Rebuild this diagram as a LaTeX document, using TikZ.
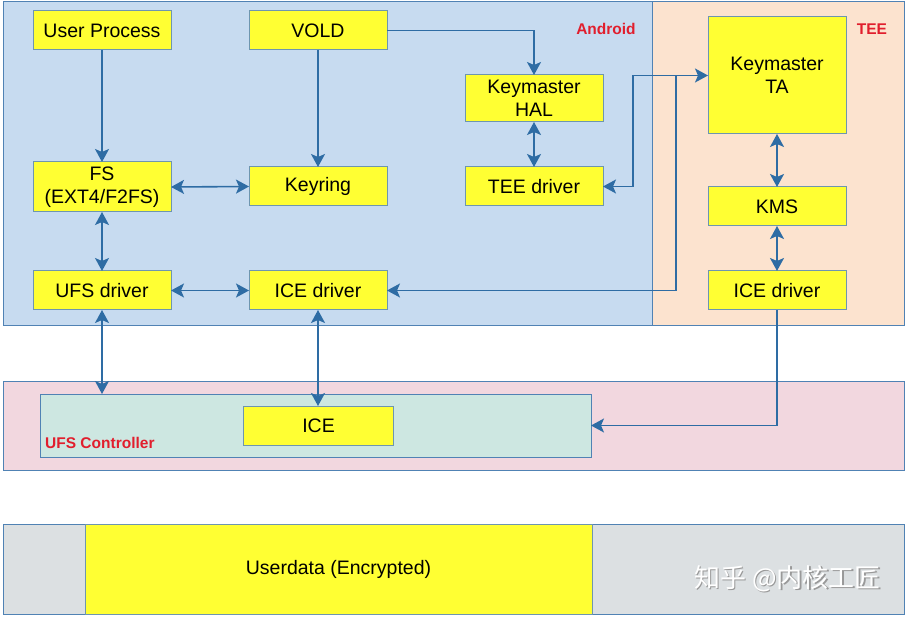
\documentclass[tikz,border=0pt]{standalone}
\usepackage{fontspec}
\setmainfont{Liberation Sans}
\newfontfamily\cjkfont{Noto Sans CJK SC}
\usetikzlibrary{arrows.meta}
\definecolor{androidbg}{RGB}{199,219,240}
\definecolor{teebg}{RGB}{252,227,207}
\definecolor{pinkbg}{RGB}{242,215,223}
\definecolor{tealbg}{RGB}{205,231,225}
\definecolor{graybg}{RGB}{220,224,226}
\definecolor{boxyellow}{RGB}{255,255,51}
\definecolor{boxborder}{RGB}{110,150,175}
\definecolor{regborder}{RGB}{80,130,180}
\definecolor{arrowc}{RGB}{46,108,164}
\definecolor{labred}{RGB}{225,30,45}
\tikzset{
  region/.style={draw=regborder, line width=1pt, inner sep=0pt, outer sep=0pt, anchor=north west},
  ybox/.style={draw=boxborder, fill=boxyellow, line width=1pt, inner sep=0pt, outer sep=0pt,
    minimum width=138pt, minimum height=39pt, align=center,
    font=\fontsize{19.5}{23}\selectfont},
  reglabel/.style={text=labred, font=\bfseries\fontsize{15.5}{18}\selectfont, inner sep=0pt},
  conn/.style={draw=arrowc, line width=1.6pt},
  onetip/.style={-{Stealth[length=13pt,width=14pt,inset=3pt]}},
  twotips/.style={{Stealth[length=13pt,width=14pt,inset=3pt]}-{Stealth[length=13pt,width=14pt,inset=3pt]}}
}
\begin{document}
\begin{tikzpicture}[x=1pt,y=-1pt]
\useasboundingbox (0,0) rectangle (907,617);
% regions
\node[region, fill=androidbg, minimum width=649pt, minimum height=324pt] (android) at (3,2) {};
\node[region, fill=teebg, minimum width=252pt, minimum height=324pt] (tee) at (652,2) {};
\node[region, fill=pinkbg, minimum width=901pt, minimum height=89pt] (pink) at (3,381) {};
\node[region, fill=tealbg, minimum width=551pt, minimum height=63pt] (teal) at (40,394) {};
\node[region, fill=graybg, minimum width=901pt, minimum height=90pt] (gray) at (3,524) {};
\node[region, draw=boxborder, fill=boxyellow, minimum width=507pt, minimum height=90pt] (userdata) at (85,524) {};
\node[font=\fontsize{19.5}{23}\selectfont, inner sep=0pt] (udtext) at (338.5,569) {Userdata (Encrypted)};
% region labels
\node[reglabel] (androidlab) at (606,29) {Android};
\node[reglabel] (teelab) at (872,29) {TEE};
\node[reglabel, anchor=west] (ufslab) at (45,443) {UFS Controller};
% boxes
\node[ybox] (up) at (102,30.5) {User Process};
\node[ybox] (vold) at (318,30.5) {VOLD};
\node[ybox, minimum height=50pt] (fs) at (102,187) {FS\\(EXT4/F2FS)};
\node[ybox] (keyring) at (318,186.5) {Keyring};
\node[ybox] (ufsd) at (102,290.5) {UFS driver};
\node[ybox] (iced) at (318,290.5) {ICE driver};
\node[ybox, minimum height=47pt] (hal) at (534,98.5) {Keymaster\\HAL};
\node[ybox] (teed) at (534,186.5) {TEE driver};
\node[ybox, minimum height=117pt] (ta) at (777,75.5) {Keymaster\\TA};
\node[ybox] (kms) at (777,206.5) {KMS};
\node[ybox] (teeice) at (777,290.5) {ICE driver};
\node[ybox, minimum width=150pt] (ice) at (318.5,425.5) {ICE};
% watermark
\node[text=gray!80, font=\cjkfont\fontsize{26}{28}\selectfont, inner sep=0pt] (wmshadow) at (789,580) {知乎 @内核工匠};
\node[text=white, font=\cjkfont\fontsize{26}{28}\selectfont, inner sep=0pt] (wm) at (787.5,578.5) {知乎 @内核工匠};
% junctions
\coordinate (j1) at (633,75.5);
\coordinate (j2) at (676,75.5);
% connectors
\draw[conn, onetip] (up.south) -- (fs.north);
\draw[conn, onetip] (vold.south) -- (keyring.north);
\draw[conn, onetip] (vold.east) -| (hal.north);
\draw[conn, twotips] (fs.east) -- (keyring.west);
\draw[conn, twotips] (fs.south) -- (ufsd.north);
\draw[conn, twotips] (ufsd.east) -- (iced.west);
\draw[conn, twotips] (hal.south) -- (teed.north);
\draw[conn, twotips] (teed.east) -| (j1) -- (ta.west);
\draw[conn, onetip] (j2) |- (iced.east);
\draw[conn, twotips] (ta.south) -- (kms.north);
\draw[conn, twotips] (kms.south) -- (teeice.north);
\draw[conn, twotips] (ufsd.south) -- (ufsd.south |- teal.north);
\draw[conn, twotips] (iced.south) -- (iced.south |- ice.north);
\draw[conn, onetip] (teeice.south) |- (teal.east);
\end{tikzpicture}
\end{document}
